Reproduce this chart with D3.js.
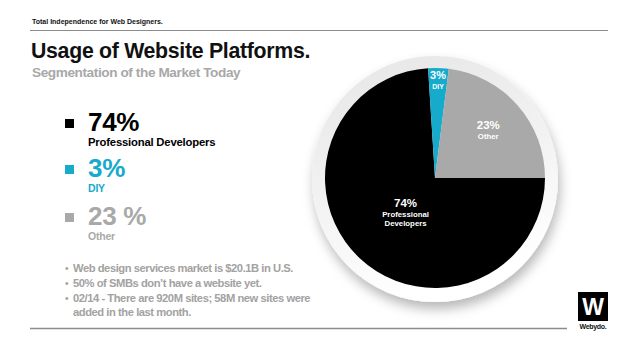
<!DOCTYPE html>
<html><head><meta charset="utf-8">
<script src="https://cdn.jsdelivr.net/npm/d3@7"></script>
<style>
html,body{margin:0;padding:0;background:#fff;}
svg{display:block;font-family:"Liberation Sans",Arial,Helvetica,sans-serif;}
</style></head>
<body>
<script>
const categories = ["Professional Developers", "DIY", "Other"];
const values = [74, 3, 23];
const percentLabels = ["74%", "3%", "23 %"];
const pieLabelLines = [["Professional", "Developers"], ["DIY"], ["Other"]];
const colors = ["#000000", "#16aacb", "#a9a9a9"];
const bullets = [
  ["Web design services market  is $20.1B in U.S."],
  ["50% of SMBs don\u2019t have a website yet."],
  ["02/14 - There are 920M sites; 58M new sites were", "added in the last month."]
];

const W = 638, H = 359;
const svg = d3.select("body").append("svg").attr("width", W).attr("height", H);
const defs = svg.append("defs");
const f = defs.append("filter").attr("id", "sh").attr("x", "-30%").attr("y", "-30%").attr("width", "160%").attr("height", "160%");
f.append("feDropShadow").attr("dx", 2).attr("dy", 7).attr("stdDeviation", 6).attr("flood-color", "#000").attr("flood-opacity", 0.28);
const lg = defs.append("linearGradient").attr("id", "ring").attr("x1", 0).attr("y1", 0).attr("x2", 0.3).attr("y2", 1);
lg.append("stop").attr("offset", "0%").attr("stop-color", "#e6e6e6");
lg.append("stop").attr("offset", "55%").attr("stop-color", "#f2f2f2");
lg.append("stop").attr("offset", "100%").attr("stop-color", "#ffffff");

// header
svg.append("text").attr("x", 32).attr("y", 24).attr("font-size", 7).attr("font-weight", "bold").attr("fill", "#111")
  .text("Total Independence for Web Designers.");
svg.append("line").attr("x1", 30).attr("x2", 608).attr("y1", 30.5).attr("y2", 30.5).attr("stroke", "#8c8c8c").attr("stroke-width", 1.2);
svg.append("text").attr("x", 31).attr("y", 58).attr("font-size", 21.3).attr("font-weight", "bold").attr("fill", "#111")
  .attr("letter-spacing", -0.3).text("Usage of Website Platforms.");
svg.append("text").attr("x", 32).attr("y", 77).attr("font-size", 13.6).attr("font-weight", "bold").attr("fill", "#a8a8a8")
  .attr("letter-spacing", -0.4).text("Segmentation of the Market Today");

// legend
const legendY = [131, 177, 225];
const lgG = svg.append("g");
categories.forEach((c, i) => {
  const y = legendY[i];
  lgG.append("rect").attr("x", 65).attr("y", y - 12).attr("width", 9).attr("height", 9).attr("fill", colors[i]);
  lgG.append("text").attr("x", 88).attr("y", y).attr("font-size", 26).attr("font-weight", "bold")
    .attr("fill", colors[i]).attr("letter-spacing", -0.3).text(percentLabels[i]);
  lgG.append("text").attr("x", 88).attr("y", y + 15).attr("font-size", i === 0 ? 11.3 : 10.5)
    .attr("font-weight", "bold").attr("fill", colors[i]).attr("letter-spacing", -0.2).text(c);
});

// bullets
let by = 272;
bullets.forEach(lines => {
  lines.forEach((ln, j) => {
    if (j === 0) svg.append("text").attr("x", 65).attr("y", by).attr("font-size", 10).attr("fill", "#a0a0a0").text("\u2022");
    svg.append("text").attr("x", 73).attr("y", by).attr("font-size", 11.2).attr("font-weight", "bold").attr("fill", "#a2a2a2")
      .attr("letter-spacing", -0.45).text(ln);
    by += 14.8;
  });
});
svg.append("line").attr("x1", 30).attr("x2", 567).attr("y1", 328.5).attr("y2", 328.5).attr("stroke", "#8c8c8c").attr("stroke-width", 1.3);

// pie
const cx = 435, cy = 178, R = 110;
const pg = svg.append("g").attr("transform", `translate(${cx},${cy})`);
pg.append("circle").attr("r", R + 13).attr("cx", 0).attr("cy", 1).attr("fill", "url(#ring)").attr("filter", "url(#sh)");
const pie = d3.pie().sort(null).value(d => d).startAngle(Math.PI / 2).endAngle(Math.PI / 2 + 2 * Math.PI);
const arcs = pie(values);
const arc = d3.arc().innerRadius(0).outerRadius(R);
pg.selectAll("path.s").data(arcs).enter().append("path").attr("class", "s")
  .attr("d", arc).attr("fill", (d, i) => colors[i]);

const labelR = [43, 97, 71];
arcs.forEach((a, i) => {
  const [x, y] = d3.arc().innerRadius(labelR[i]).outerRadius(labelR[i]).centroid(a);
  const big = i === 1 ? 11 : 11.5;
  const small = i === 1 ? 7 : 7.8;
  const t = pg.append("text").attr("x", x).attr("y", y - 2).attr("text-anchor", "middle").attr("fill", "#fff").attr("font-weight", "bold");
  t.append("tspan").attr("x", x).attr("font-size", big).text(values[i] + "%");
  pieLabelLines[i].forEach((ln, j) => {
    t.append("tspan").attr("x", x).attr("dy", 9.5).attr("font-size", small).text(ln);
  });
});

// logo
svg.append("rect").attr("x", 578).attr("y", 292).attr("width", 30).attr("height", 29).attr("fill", "#000");
svg.append("text").attr("x", 593).attr("y", 315).attr("text-anchor", "middle").attr("font-size", 23).attr("font-weight", "bold").attr("fill", "#fff").text("W");
svg.append("text").attr("x", 593).attr("y", 329).attr("text-anchor", "middle").attr("font-size", 7).attr("font-weight", "bold").attr("fill", "#111").attr("letter-spacing", -0.3).text("Webydo.");
</script>
</body></html>
